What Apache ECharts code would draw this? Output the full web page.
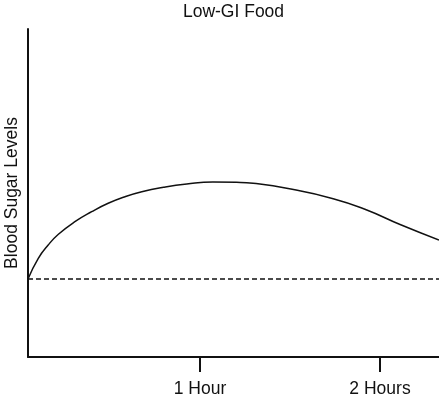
<!DOCTYPE html>
<html>
<head>
<meta charset="utf-8">
<script src="https://cdn.jsdelivr.net/npm/echarts@6/dist/echarts.min.js"></script>
<style>
html,body{margin:0;padding:0;background:#fff;}
#chart{width:439px;height:400px;}
</style>
</head>
<body>
<div id="chart"></div>
<script>
// Time after eating (minutes) and relative blood sugar level (arbitrary units)
var times = [2.67, 6.1, 9.4, 12.8, 18.3, 23.9, 29.4, 35, 40.6, 47.8, 55.6, 64.3, 72.2, 77.7, 88.9, 104.4, 115.6, 126.7, 139.67];
var levels = [78, 98.7, 112, 122.7, 135.3, 145.3, 153.7, 160.3, 165.3, 169.7, 173, 175, 174.7, 173.7, 168.7, 158.3, 147, 132.5, 117];
var baselineLevel = 78;
var tickValues = [60, 120];
var tickLabels = ['1 Hour', '2 Hours'];
var xMin = 2.67, xMax = 139.67;
var yMin = 0, yMax = 328;

var curveData = times.map(function (t, i) { return [t, levels[i]]; });
var baselineData = [[xMin, baselineLevel], [xMax, baselineLevel]];

var FONT = '"Liberation Sans", Arial, sans-serif';
var chart = echarts.init(document.getElementById('chart'), null, {renderer: 'canvas'});
chart.setOption({
  animation: false,
  backgroundColor: '#fff',
  title: {
    text: 'Low-GI Food',
    left: 233.5,
    textAlign: 'center',
    top: 3,
    padding: [0, 0, 0, 0],
    textStyle: {fontFamily: FONT, fontSize: 17.5, fontWeight: 'normal', color: '#111'}
  },
  grid: {left: 28, right: 0, top: 29, bottom: 43, containLabel: false, outerBoundsMode: 'none'},
  xAxis: {
    type: 'value',
    min: xMin,
    max: xMax,
    splitLine: {show: false},
    axisLine: {show: true, onZero: false, lineStyle: {color: '#111', width: 2}},
    axisTick: {show: true, customValues: tickValues, length: 15, inside: false, lineStyle: {color: '#111', width: 2}},
    axisLabel: {
      show: true,
      customValues: tickValues,
      margin: 23,
      fontFamily: FONT, fontSize: 17.5, color: '#111',
      formatter: function (v) {
        var i = tickValues.indexOf(v);
        return i >= 0 ? tickLabels[i] : '';
      }
    }
  },
  yAxis: {
    type: 'value',
    min: yMin,
    max: yMax,
    name: 'Blood Sugar Levels',
    nameLocation: 'middle',
    nameRotate: 90,
    nameGap: 7,
    nameTextStyle: {fontFamily: FONT, fontSize: 17.5, color: '#111'},
    splitLine: {show: false},
    axisLine: {show: true, lineStyle: {color: '#111', width: 2}},
    axisTick: {show: false},
    axisLabel: {show: false}
  },
  series: [
    {
      type: 'line',
      data: baselineData,
      symbol: 'none',
      silent: true,
      lineStyle: {color: '#111', width: 1.5, type: [5, 3]}
    },
    {
      type: 'line',
      data: curveData,
      smooth: 0.5,
      symbol: 'none',
      silent: true,
      lineStyle: {color: '#111', width: 1.5}
    }
  ]
});
</script>
</body>
</html>
